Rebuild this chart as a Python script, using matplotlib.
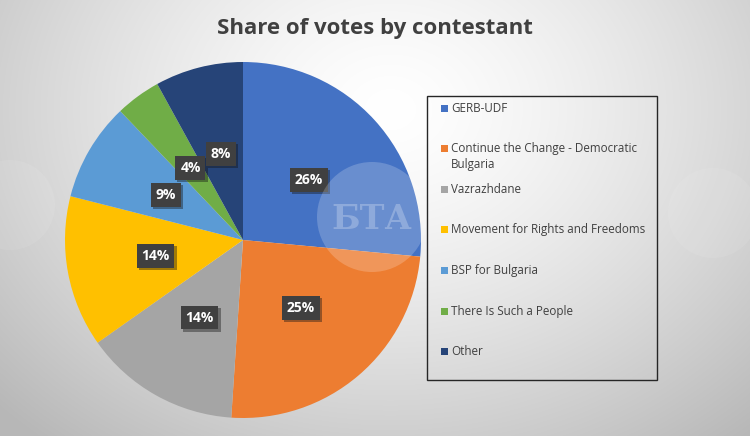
import numpy as np
import matplotlib.pyplot as plt
from matplotlib.patches import Circle, Rectangle
from matplotlib import patheffects as pe

plt.rcParams['font.family'] = ['Open Sans', 'DejaVu Sans']

parties = ['GERB-UDF', 'Continue the Change - Democratic\nBulgaria', 'Vazrazhdane',
           'Movement for Rights and Freedoms', 'BSP for Bulgaria',
           'There Is Such a People', 'Other']
shares = [26.49, 24.56, 14.16, 13.75, 8.93, 4.11, 8.00]
colors = ['#4472c4', '#ed7d31', '#a5a5a5', '#ffc000', '#5b9bd5', '#70ad47', '#264478']

W, H = 750, 436
fig = plt.figure(figsize=(7.5, 4.36), dpi=100)

# background radial gradient
bg = fig.add_axes([0, 0, 1, 1])
yy, xx = np.mgrid[0:H, 0:W]
d = np.sqrt(((xx - 390) / 1.25) ** 2 + (yy - 110) ** 2) / 420
g = np.clip(1 - 0.27 * d ** 1.4, 0.72, 1)
bg.imshow(np.dstack([g, g, g]), extent=[0, W, H, 0], aspect='auto')
bg.set_xlim(0, W)
bg.set_ylim(H, 0)
bg.axis('off')

fig.text(375 / W, 1 - 28 / H, 'Share of votes by contestant', ha='center', va='center',
         fontsize=16, fontweight='bold', color='#404040')

# pie
cx, cy, r = 243, 240, 178
ax = fig.add_axes([(cx - 180) / W, (H - cy - 180) / H, 360 / W, 360 / H])
wedges, _, autotexts = ax.pie(shares, colors=colors, startangle=90, counterclock=False,
                              autopct='%.0f%%', pctdistance=0.5, radius=1,
                              wedgeprops=dict(linewidth=0))
lim = 180 / r
ax.set_xlim(-lim, lim)
ax.set_ylim(-lim, lim)
for t in autotexts:
    t.set_color('white')
    t.set_fontsize(10)
    t.set_fontweight('bold')
    t.set_bbox(dict(boxstyle='square,pad=0.35', facecolor='#404040', edgecolor='none'))
    t.get_bbox_patch().set_path_effects([pe.SimplePatchShadow(offset=(1.5, -1.5), alpha=0.4),
                                         pe.Normal()])

# BTA watermarks
ov = fig.add_axes([0, 0, 1, 1], facecolor='none')
ov.set_xlim(0, W)
ov.set_ylim(H, 0)
ov.axis('off')
for (wx, wy, wr, a) in [(372, 217, 55, 0.2), (713, 213, 45, 0.08), (10, 205, 45, 0.08)]:
    ov.add_patch(Circle((wx, wy), wr, facecolor='white', edgecolor='none', alpha=a))
ov.text(372, 219, 'БТА', ha='center', va='center', fontsize=24, fontweight='bold',
        family='DejaVu Serif', color='white', alpha=0.25)

# legend box
lx0, ly0, lx1, ly1 = 427, 96, 657, 380
ov.add_patch(Rectangle((lx0, ly0), lx1 - lx0, ly1 - ly0, facecolor='none',
                       edgecolor='#262626', linewidth=1))
for i, (name, c) in enumerate(zip(parties, colors)):
    y = 108 + i * 40.6
    ov.add_patch(Rectangle((440.5, y - 3.5), 7, 7, facecolor=c, edgecolor='none'))
    for k, line in enumerate(name.split('\n')):
        ov.text(451, y + k * 15.5, line, ha='left', va='center', fontsize=8.4,
                color='#404040')

fig.savefig('out.png', dpi=100)
